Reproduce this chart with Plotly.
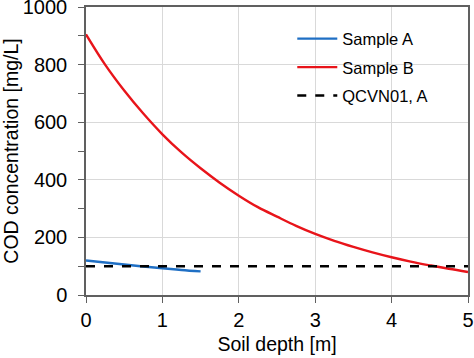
import plotly.graph_objects as go

depth_b = [0, 0.25, 0.5, 0.75, 1, 1.25, 1.5, 1.75, 2, 2.25, 2.5, 2.75, 3, 3.25, 3.5, 3.75, 4, 4.25, 4.5, 4.75, 5]
cod_b = [905, 800, 710, 630, 558, 495, 440, 390, 345, 305, 272, 240, 212, 188, 167, 148, 131, 116, 103, 91, 80]
depth_a = [0, 0.25, 0.5, 0.75, 1, 1.25, 1.5]
cod_a = [120, 113, 106, 99, 93, 87, 82]
depth_q = [0, 5]
cod_q = [100, 100]

FONT = "Liberation Sans, Arial, sans-serif"

fig = go.Figure()
fig.add_trace(go.Scatter(x=depth_a, y=cod_a, mode="lines", name="Sample A", legendgroup="a",
                         line=dict(color="#1f6fc4", width=2.4, shape="spline")))
fig.add_trace(go.Scatter(x=depth_b, y=cod_b, mode="lines", name="Sample B", legendgroup="b",
                         line=dict(color="#e8141a", width=2.4, shape="spline")))
fig.add_trace(go.Scatter(x=depth_q, y=cod_q, mode="lines", name="QCVN01, A", legendgroup="q",
                         line=dict(color="black", width=2.4, dash="dash")))

fig.update_layout(
    width=474, height=358,
    margin=dict(l=86, r=6, t=7, b=63),
    paper_bgcolor="white", plot_bgcolor="white",
    font=dict(family=FONT, size=19, color="black"),
    legend=dict(x=0.54, y=0.95, xanchor="left", yanchor="top",
                bgcolor="rgba(0,0,0,0)", font=dict(size=16.5), tracegroupgap=4,
                itemwidth=40),
    showlegend=True,
)
fig.update_xaxes(range=[0, 5], dtick=1, showgrid=True, gridcolor="#d9d9d9", gridwidth=1,
                 showline=True, linecolor="#606060", linewidth=1.5, mirror=True,
                 ticks="outside", ticklen=6, tickcolor="#606060", automargin=False,
                 ticklabeloverflow="allow",
                 title=dict(text="Soil depth [m]", font=dict(size=19.5), standoff=8),
                 zeroline=False, tickfont=dict(size=20))
fig.update_yaxes(range=[0, 1000], dtick=200, showgrid=True, gridcolor="#d9d9d9", gridwidth=1,
                 showline=True, linecolor="#606060", linewidth=1.5, mirror=True,
                 ticks="outside", ticklen=6, tickcolor="#606060", automargin=False,
                 ticklabeloverflow="allow", ticklabelstandoff=7,
                 minor=dict(dtick=100, ticks="outside", ticklen=6, tickcolor="#606060", showgrid=False),
                 title=dict(text="COD concentration [mg/L]", font=dict(size=19.5), standoff=4),
                 zeroline=False, tickfont=dict(size=20))

fig.write_html("out.html", config={"displayModeBar": False},
               post_script="document.body.style.margin='0';document.body.style.overflow='hidden';")
